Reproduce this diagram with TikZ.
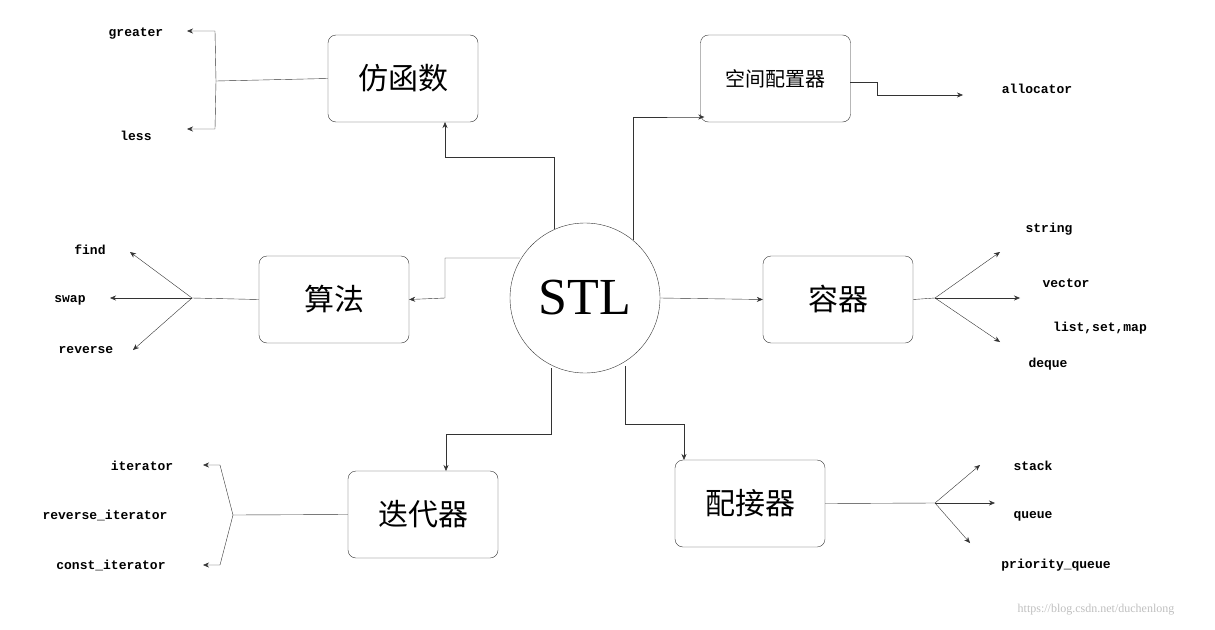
\documentclass[tikz,border=0pt]{standalone}
\usepackage{fontspec}
\newfontfamily\cjk{Noto Sans CJK SC}
\newfontfamily\lbl{Liberation Mono}
\setmainfont{Liberation Serif}
\usetikzlibrary{arrows.meta}
\begin{document}
\begin{tikzpicture}[x=1pt,y=-1pt,
  box/.style={draw=black!80,rounded corners=8pt,minimum width=150pt,minimum height=87pt,inner sep=0pt,font=\cjk\fontsize{30}{30}\selectfont},
  lb/.style={font=\lbl\bfseries\fontsize{13}{13}\selectfont,inner sep=1pt},
  ar/.style={draw=black!80,-{Stealth[length=6pt,width=5pt]}},
  ln/.style={draw=black!80}]
\useasboundingbox (0,0) rectangle (1215,629);
\node[circle,draw=black!80,minimum size=150pt,inner sep=0pt,font=\fontsize{52}{52}\selectfont] (stl) at (585,298) {STL};
\node[box] (ff) at (403,78.5) {仿函数};
\node[box,font=\cjk\fontsize{20}{20}\selectfont] (kj) at (775.5,78.5) {空间配置器};
\node[box] (sf) at (334,299.5) {算法};
\node[box] (rq) at (838,299.5) {容器};
\node[box] (dd) at (423,514.5) {迭代器};
\node[box] (pj) at (750,503.5) {配接器};
% labels
\node[lb] (greater) at (136,34) {greater};
\node[lb] (less) at (136,136) {less};
\node[lb] (alloc) at (1037,89) {allocator};
\node[lb] (find) at (90,250) {find};
\node[lb] (swap) at (70,300) {swap};
\node[lb] (rev) at (86,350) {reverse};
\node[lb] (string) at (1049,229) {string};
\node[lb] (vector) at (1066,283) {vector};
\node[lb] (lsm) at (1100,328) {list,set,map};
\node[lb] (deque) at (1048,364) {deque};
\node[lb] (it) at (142,466) {iterator};
\node[lb] (rit) at (105,515) {reverse\_iterator};
\node[lb] (cit) at (111,565) {const\_iterator};
\node[lb] (stack) at (1033,466) {stack};
\node[lb] (queue) at (1033,516) {queue};
\node[lb] (pq) at (1056,565) {priority\_queue};
\node[font=\fontsize{12}{12}\selectfont,text=black!25,inner sep=0pt] (wm) at (1096,610) {https://blog.csdn.net/duchenlong};
% coordinates
\coordinate (a1) at (554,229); \coordinate (a2) at (633,240);
\coordinate (a3) at (520,258); \coordinate (a4) at (551,368);
\coordinate (a5) at (625,366);
\coordinate (j1) at (216,81); \coordinate (j2) at (192,298);
\coordinate (j3) at (935,298); \coordinate (j4) at (233,515);
\coordinate (j5) at (935,503);
% STL connectors
\draw[ar] (a1) |- (445,157) -- (445,122);
\draw[ar] (a2) |- (kj.west |- 0,117) -- ([xshift=4pt]kj.west |- 0,117);
\draw[ar] (850,82) -- (877,82) -- (877,95) -- (963,95);
\draw[ar] (a3) -- (445,258) -- (445,298) -- (sf.east);
\draw[ar] (stl.east) -- (rq.west);
\draw[ar] (a4) -- (551,434) -- (446,434) -- (446,471);
\draw[ar] (a5) -- (625,424) -- (684,424) -- (684,460);
% branches
\draw[ln] (ff.west) -- (j1);
\draw[ar] (j1) -- (215,31) -- (187,31);
\draw[ar] (j1) -- (215,129) -- (187,129);
\draw[ln] (sf.west) -- (j2);
\draw[ar] (j2) -- (130,252);
\draw[ar] (j2) -- (110,298);
\draw[ar] (j2) -- (133,350);
\draw[ln] (rq.east) -- (j3);
\draw[ar] (j3) -- (1000,252);
\draw[ar] (j3) -- (1020,298);
\draw[ar] (j3) -- (1000,342);
\draw[ln] (dd.west) -- (j4);
\draw[ar] (j4) -- (220,465) -- (203,465);
\draw[ar] (j4) -- (220,565) -- (203,565);
\draw[ln] (pj.east) -- (j5);
\draw[ar] (j5) -- (980,465);
\draw[ar] (j5) -- (995,503);
\draw[ar] (j5) -- (970,543);
\end{tikzpicture}
\end{document}
